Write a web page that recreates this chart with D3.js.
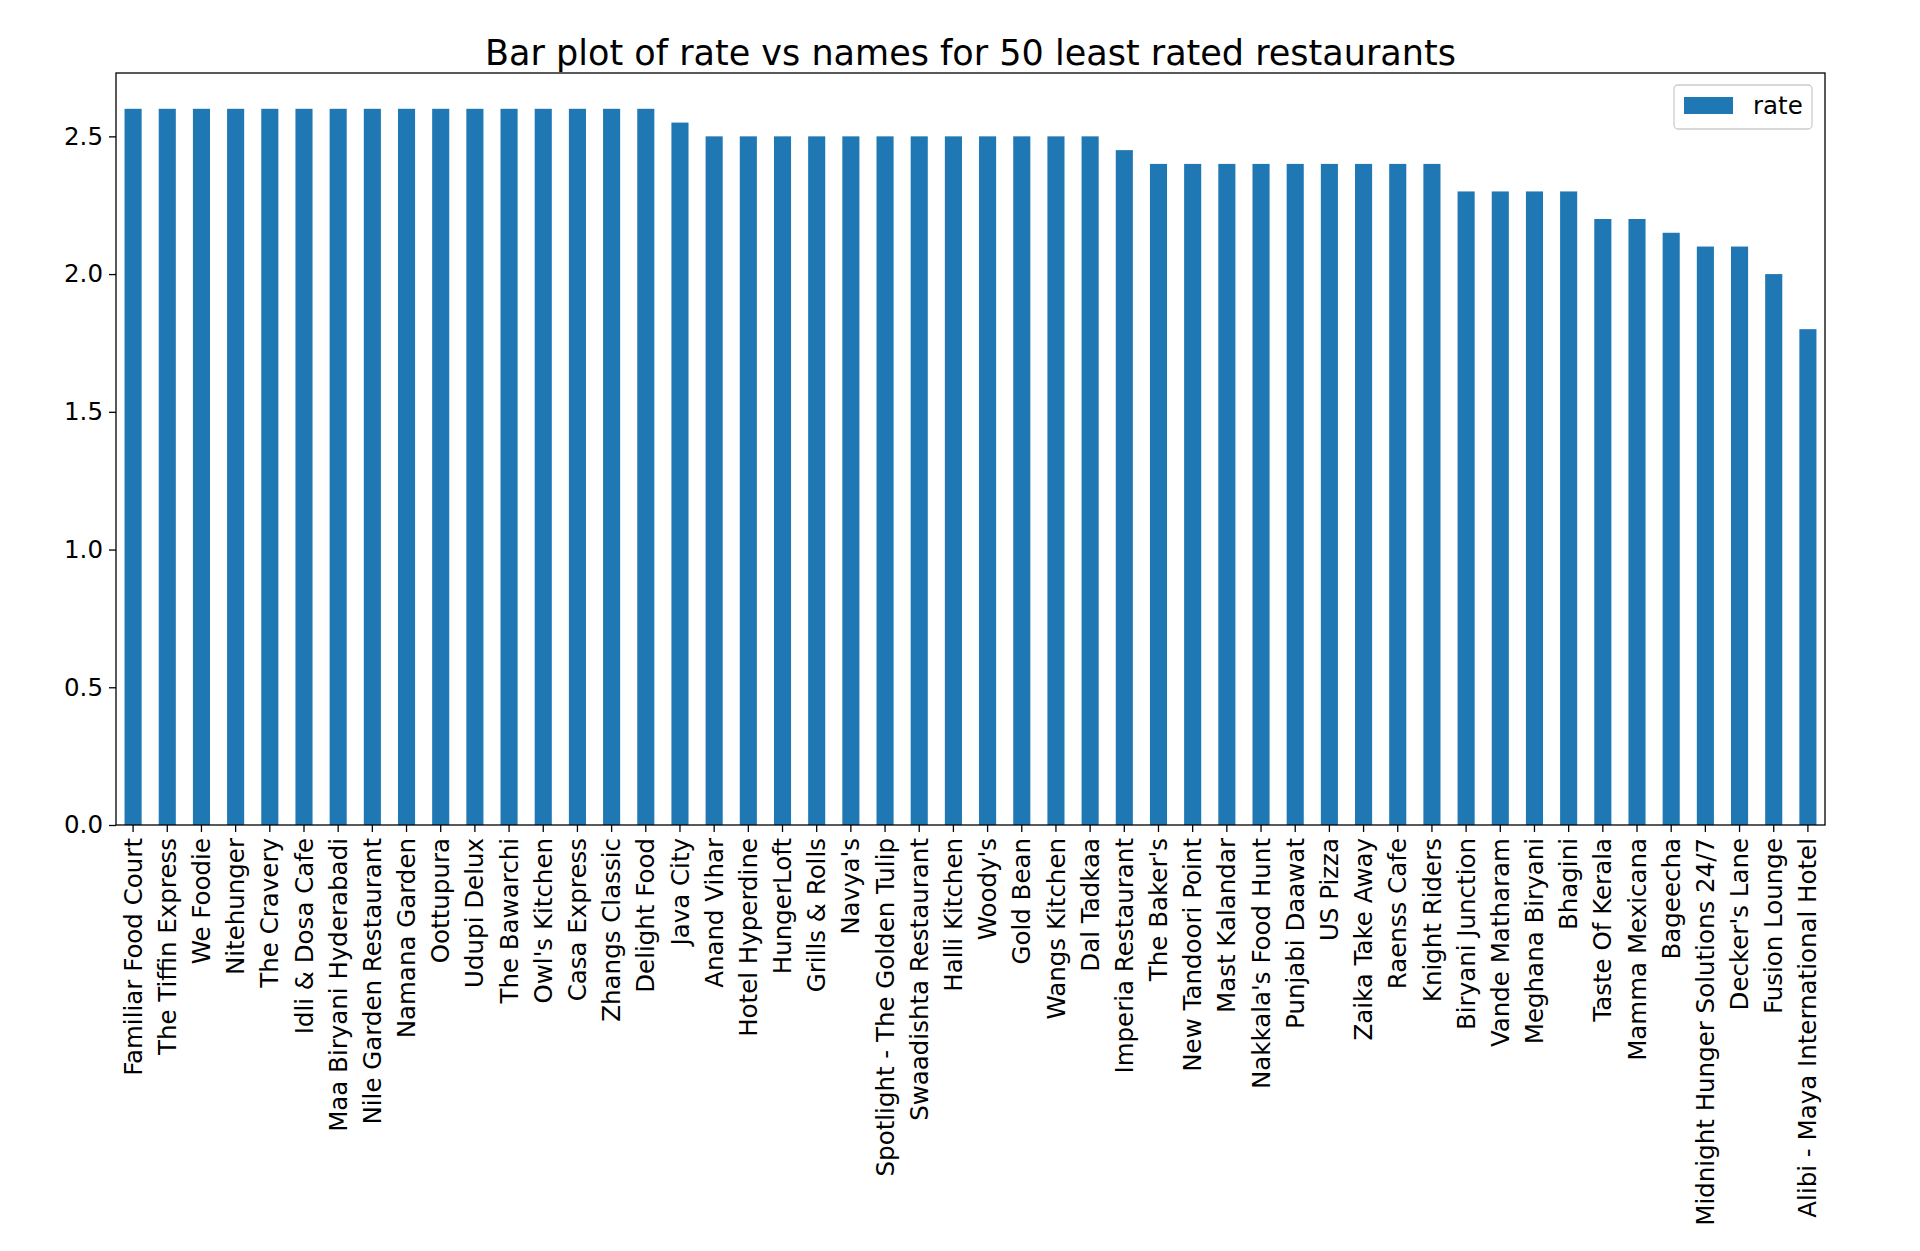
<!doctype html>
<html lang="en">
  <head>
    <meta charset="UTF-8" />
    <title>Bar plot of rate vs names</title>
    <style>
      body {
        margin: 0;
        background: #fff;
        font-family: "DejaVu Sans", sans-serif;
      }
      svg {
        display: block;
      }
    </style>
  </head>
  <body>
    <svg id="chart"></svg>

    <script src="https://d3js.org/d3.v7.min.js"></script>
    <script>
      const names = [
        "Familiar Food Court", "The Tiffin Express", "We Foodie", "Nitehunger",
        "The Cravery", "Idli & Dosa Cafe", "Maa Biryani Hyderabadi",
        "Nile Garden Restaurant", "Namana Garden", "Oottupura", "Udupi Delux",
        "The Bawarchi", "Owl's Kitchen", "Casa Express", "Zhangs Classic",
        "Delight Food", "Java City", "Anand Vihar", "Hotel Hyperdine",
        "HungerLoft", "Grills & Rolls", "Navya's", "Spotlight - The Golden Tulip",
        "Swaadishta Restaurant", "Halli Kitchen", "Woody's", "Gold Bean",
        "Wangs Kitchen", "Dal Tadkaa", "Imperia Restaurant", "The Baker's",
        "New Tandoori Point", "Mast Kalandar", "Nakkala's Food Hunt",
        "Punjabi Daawat", "US Pizza", "Zaika Take Away", "Raenss Cafe",
        "Knight Riders", "Biryani Junction", "Vande Matharam", "Meghana Biryani",
        "Bhagini", "Taste Of Kerala", "Mamma Mexicana", "Bageecha",
        "Midnight Hunger Solutions 24/7", "Decker's Lane", "Fusion Lounge",
        "Alibi - Maya International Hotel",
      ];

      const rates = [
        2.6, 2.6, 2.6, 2.6, 2.6, 2.6, 2.6, 2.6, 2.6, 2.6, 2.6, 2.6, 2.6, 2.6,
        2.6, 2.6, 2.55, 2.5, 2.5, 2.5, 2.5, 2.5, 2.5, 2.5, 2.5, 2.5, 2.5, 2.5,
        2.5, 2.45, 2.4, 2.4, 2.4, 2.4, 2.4, 2.4, 2.4, 2.4, 2.4, 2.3, 2.3, 2.3,
        2.3, 2.2, 2.2, 2.15, 2.1, 2.1, 2.0, 1.8,
      ];

      const yTicks = [0.0, 0.5, 1.0, 1.5, 2.0, 2.5];
      const seriesName = "rate";
      const title = "Bar plot of rate vs names for 50 least rated restaurants";

      const W = 1920;
      const H = 1251;
      const margin = { top: 73, right: 95, bottom: 426, left: 116 };
      const plotW = W - margin.left - margin.right;
      const plotH = H - margin.top - margin.bottom;
      const barColor = "#1f77b4";
      const tickFont = 24.5;

      const data = names.map((n, i) => ({ name: n, rate: rates[i] }));

      const svg = d3.select("#chart").attr("width", W).attr("height", H);

      const x = d3
        .scaleBand()
        .domain(names)
        .range([0, plotW])
        .paddingInner(0.5)
        .paddingOuter(0.25);

      // matplotlib adds 5% headroom above the tallest bar
      const y = d3
        .scaleLinear()
        .domain([0, d3.max(rates) * 1.05])
        .range([plotH, 0]);

      const g = svg
        .append("g")
        .attr("transform", `translate(${margin.left},${margin.top})`);

      g.append("g")
        .selectAll("rect")
        .data(data)
        .join("rect")
        .attr("x", (d) => x(d.name))
        .attr("y", (d) => y(d.rate))
        .attr("width", x.bandwidth())
        .attr("height", (d) => plotH - y(d.rate))
        .attr("fill", barColor);

      // y axis
      const yAxis = g
        .append("g")
        .call(
          d3
            .axisLeft(y)
            .tickValues(yTicks)
            .tickFormat(d3.format(".1f"))
            .tickSize(7)
            .tickPadding(6),
        );
      yAxis.select(".domain").remove();
      yAxis
        .selectAll("text")
        .attr("font-family", "DejaVu Sans")
        .attr("font-size", tickFont)
        .attr("fill", "#000");
      yAxis.selectAll("line").attr("stroke", "#000").attr("stroke-width", 1.3);

      // x axis
      const xAxis = g
        .append("g")
        .attr("transform", `translate(0,${plotH})`)
        .call(d3.axisBottom(x).tickSize(7).tickPadding(6));
      xAxis.select(".domain").remove();
      xAxis.selectAll("line").attr("stroke", "#000").attr("stroke-width", 1.3);
      xAxis
        .selectAll("text")
        .attr("font-family", "DejaVu Sans")
        .attr("font-size", tickFont)
        .attr("fill", "#000")
        .attr("transform", "rotate(-90)")
        .attr("text-anchor", "end")
        .attr("x", -13)
        .attr("y", 0)
        .attr("dy", "0.35em");

      // frame
      g.append("rect")
        .attr("x", 0)
        .attr("y", 0)
        .attr("width", plotW)
        .attr("height", plotH)
        .attr("fill", "none")
        .attr("stroke", "#000")
        .attr("stroke-width", 1.3);

      // title
      svg
        .append("text")
        .attr("x", margin.left + plotW / 2)
        .attr("y", 65)
        .attr("text-anchor", "middle")
        .attr("font-family", "DejaVu Sans")
        .attr("font-size", 35)
        .attr("fill", "#000")
        .text(title);

      // legend
      const legend = g
        .append("g")
        .attr("transform", `translate(${plotW - 151},12)`);
      legend
        .append("rect")
        .attr("width", 138)
        .attr("height", 44)
        .attr("rx", 4)
        .attr("fill", "#fff")
        .attr("fill-opacity", 0.8)
        .attr("stroke", "#ccc")
        .attr("stroke-width", 1.3);
      legend
        .append("rect")
        .attr("x", 10)
        .attr("y", 12)
        .attr("width", 49)
        .attr("height", 17)
        .attr("fill", barColor);
      legend
        .append("text")
        .attr("x", 79)
        .attr("y", 29)
        .attr("font-family", "DejaVu Sans")
        .attr("font-size", tickFont)
        .attr("fill", "#000")
        .text(seriesName);
    </script>
  </body>
</html>
